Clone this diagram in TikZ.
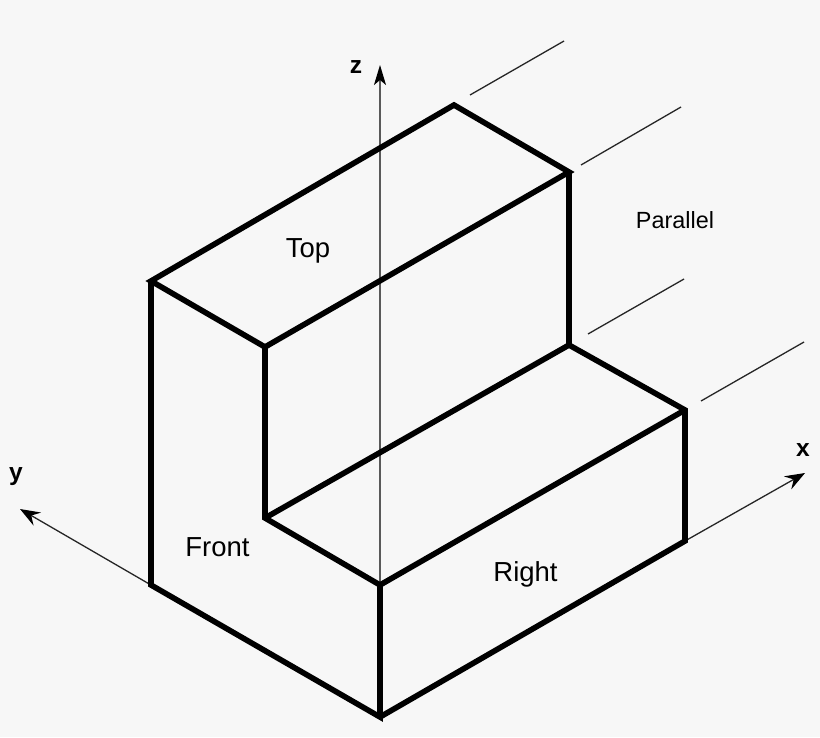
\documentclass[tikz,border=0pt]{standalone}
\usepackage{fontspec}
\setmainfont{Liberation Sans}
\usetikzlibrary{arrows.meta}
\definecolor{bgc}{HTML}{F7F7F7}
\tikzset{
  edge/.style={line width=5.6pt,line join=miter,line cap=butt,black},
  thinl/.style={line width=1.3pt,color=black!85},
  axisl/.style={thinl,-{Stealth[length=20pt,width=15pt,inset=7pt,black]}},
  zaxis/.style={line width=1.6pt,color=black!65,-{Stealth[length=20pt,width=12pt,inset=5pt,black]}},
  face/.style={inner sep=0pt,font=\fontsize{27.5}{30}\selectfont},
  axl/.style={inner sep=0pt,font=\fontsize{24.5}{26}\selectfont\bfseries},
}
\begin{document}
\begin{tikzpicture}[x=1pt,y=-1pt]
\useasboundingbox[fill=bgc] (0,0) rectangle (820,737);
% vertices
\coordinate (A) at (380,717);
\coordinate (B) at (151,585);
\coordinate (C) at (151,281);
\coordinate (D) at (454,105);
\coordinate (E) at (569,172);
\coordinate (F) at (265,347);
\coordinate (G) at (265,518);
\coordinate (H) at (380,585);
\coordinate (I) at (685,410);
\coordinate (J) at (569,345);
\coordinate (K) at (685,541);
% axis ends
\coordinate (zt) at (380,65);
\coordinate (yt) at (20,509);
\coordinate (xt) at (805,473);
% parallel guides
\coordinate (p1a) at (470,95);  \coordinate (p1b) at (564,41);
\coordinate (p2a) at (581,165); \coordinate (p2b) at (681,107);
\coordinate (p3a) at (588,334); \coordinate (p3b) at (684,279);
\coordinate (p4a) at (701,401); \coordinate (p4b) at (804,342);
% thin lines
\draw[zaxis] (A) -- (zt);
\draw[axisl] (B) -- (yt);
\draw[axisl] (K) -- (xt);
\draw[thinl] (p1a) -- (p1b);
\draw[thinl] (p2a) -- (p2b);
\draw[thinl] (p3a) -- (p3b);
\draw[thinl] (p4a) -- (p4b);
% solid edges
\draw[edge] (F) -- (C) -- (D) -- (E) -- cycle;
\draw[edge] (C) -- (B) -- (A) -- (H) -- (G) -- (F);
\draw[edge] (E) -- (J) -- (I) -- (K) -- (A);
\draw[edge] (G) -- (J);
\draw[edge] (H) -- (I);
% labels
\node[face] (top) at (308,251) {Top};
\node[face] (front) at (217.5,547) {Front};
\node[face] (right) at (525.5,574) {Right};
\node[inner sep=0pt,font=\fontsize{23.4}{26}\selectfont] (par) at (675,220) {Parallel};
\node[axl] (zl) at (356,67) {z};
\node[axl] (yl) at (16,477) {y};
\node[axl] (xl) at (803,450) {x};
\end{tikzpicture}
\end{document}
